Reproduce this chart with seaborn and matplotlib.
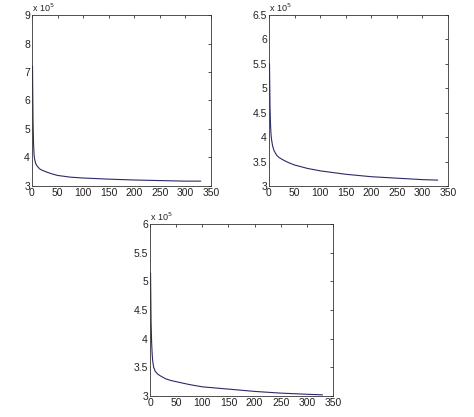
import numpy as np
import pandas as pd
import seaborn as sns
import matplotlib.pyplot as plt

# iteration index and objective values
x1 = [1, 2, 3, 4, 5, 7, 10, 15, 20, 30, 40, 50, 75, 100, 150, 200, 250, 300, 330]
y1 = [7.2e5, 5.3e5, 4.5e5, 4.1e5, 3.95e5, 3.8e5, 3.7e5, 3.6e5, 3.55e5, 3.48e5, 3.42e5, 3.37e5,
      3.31e5, 3.28e5, 3.24e5, 3.21e5, 3.19e5, 3.17e5, 3.17e5]

x2 = [1, 2, 3, 4, 5, 7, 10, 15, 20, 30, 40, 50, 75, 100, 150, 200, 250, 300, 330]
y2 = [5.5e5, 4.6e5, 4.25e5, 4.05e5, 3.95e5, 3.82e5, 3.72e5, 3.63e5, 3.58e5, 3.52e5, 3.47e5, 3.43e5,
      3.36e5, 3.31e5, 3.24e5, 3.19e5, 3.16e5, 3.13e5, 3.12e5]

x3 = [1, 2, 3, 4, 5, 7, 10, 15, 20, 30, 40, 50, 75, 100, 150, 200, 250, 300, 330]
y3 = [5.15e5, 4.3e5, 3.95e5, 3.75e5, 3.62e5, 3.5e5, 3.43e5, 3.38e5, 3.35e5, 3.3e5, 3.27e5, 3.25e5,
      3.2e5, 3.16e5, 3.12e5, 3.08e5, 3.05e5, 3.03e5, 3.02e5]

ylims = [(3, 9), (3, 6.5), (3, 6)]
ysteps = [1, 0.5, 0.5]

sns.set_style("white")
plt.rcParams['font.family'] = ['Liberation Sans', 'DejaVu Sans']

fig = plt.figure(figsize=(4.74, 4.17), dpi=100)
axes = [
    fig.add_axes([0.0675, 0.554, 0.3776, 0.410]),
    fig.add_axes([0.5675, 0.554, 0.3776, 0.410]),
    fig.add_axes([0.3165, 0.0504, 0.386, 0.412]),
]

for ax, xs, ys, lim, step in zip(axes, [x1, x2, x3], [y1, y2, y3], ylims, ysteps):
    df = pd.DataFrame({'iter': xs, 'val': np.array(ys) / 1e5})
    sns.lineplot(data=df, x='iter', y='val', ax=ax, color='#2a2a6a', linewidth=0.8)
    ax.set_xlim(0, 350)
    ax.set_ylim(*lim)
    ax.set_xticks(np.arange(0, 351, 50))
    yt = np.arange(lim[0], lim[1] + 0.01, step)
    ax.set_yticks(yt)
    ax.set_yticklabels([f"{v:g}" for v in yt])
    ax.set_xlabel('')
    ax.set_ylabel('')
    ax.tick_params(direction='in', length=2.5, width=0.6, labelsize=7.5, pad=1.5,
                   top=True, right=True, colors='#333333', labelcolor='#222222')
    for s in ax.spines.values():
        s.set_linewidth(0.6)
        s.set_color('#333333')
    ax.text(0.0, 1.005, r'x 10$^5$', transform=ax.transAxes, fontsize=6.5,
            va='bottom', ha='left', color='#222222')

fig.savefig('out.png', dpi=100, facecolor='white')
